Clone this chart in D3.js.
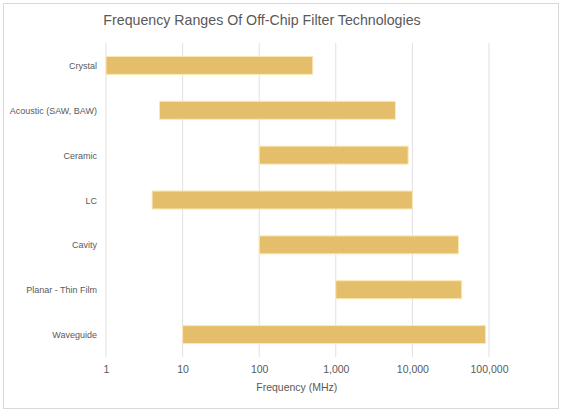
<!DOCTYPE html>
<html>
<head>
<meta charset="utf-8">
<script src="https://cdn.jsdelivr.net/npm/d3@7"></script>
<style>
  body { margin: 0; background: #fff; }
  text { font-family: "Liberation Sans", Arial, sans-serif; fill: #595959; }
</style>
</head>
<body>
<div id="chart"></div>
<script>
const width = 562;
const height = 412;

// data (MHz)
const categories = ["Crystal", "Acoustic (SAW, BAW)", "Ceramic", "LC", "Cavity", "Planar - Thin Film", "Waveguide"];
const lowFreq = [1, 5, 100, 4, 100, 1000, 10];
const highFreq = [500, 6000, 8800, 10000, 40000, 44000, 90000];
const tickValues = [1, 10, 100, 1000, 10000, 100000];

const margin = {top: 43, right: 73, bottom: 55, left: 106};

const svg = d3.select("#chart")
    .append("svg")
    .attr("width", width)
    .attr("height", height);

// outer frame
svg.append("rect")
    .attr("x", 3.5).attr("y", 3.5)
    .attr("width", width - 7).attr("height", height - 7)
    .attr("fill", "#fff")
    .attr("stroke", "#d9d9d9");

const x = d3.scaleLog()
    .domain([1, 100000])
    .range([margin.left, width - margin.right]);

const y = d3.scaleBand()
    .domain(categories)
    .range([margin.top, height - margin.bottom])
    .paddingInner(0.6)
    .paddingOuter(0.3);

// vertical gridlines
svg.append("g")
    .selectAll("line")
    .data(tickValues)
    .join("line")
    .attr("x1", d => x(d)).attr("x2", d => x(d))
    .attr("y1", margin.top).attr("y2", height - margin.bottom)
    .attr("stroke", "#e0e0e0")
    .attr("stroke-width", 1);

// bars
svg.append("g")
    .selectAll("rect")
    .data(categories)
    .join("rect")
    .attr("x", (d, i) => x(lowFreq[i]))
    .attr("y", d => y(d))
    .attr("width", (d, i) => x(highFreq[i]) - x(lowFreq[i]))
    .attr("height", y.bandwidth())
    .attr("fill", "#e4be6a")
    .attr("stroke", "#fbe7b5")
    .attr("stroke-width", 1);

// x axis labels
const xAxis = d3.axisBottom(x)
    .tickValues(tickValues)
    .tickFormat(d3.format(","))
    .tickSize(0)
    .tickPadding(9);

const gx = svg.append("g")
    .attr("transform", `translate(0,${height - margin.bottom})`)
    .call(xAxis);
gx.select(".domain").remove();
gx.selectAll("text")
    .attr("font-size", 10.5)
    .style("font-family", '"Liberation Sans", Arial, sans-serif')
    .attr("fill", "#595959");

// y axis labels
const yAxis = d3.axisLeft(y).tickSize(0).tickPadding(9);
const gy = svg.append("g")
    .attr("transform", `translate(${margin.left},0)`)
    .call(yAxis);
gy.select(".domain").remove();
gy.selectAll("text")
    .attr("font-size", 9)
    .attr("dy", "0.4em")
    .style("font-family", '"Liberation Sans", Arial, sans-serif')
    .attr("fill", "#595959");

// title
svg.append("text")
    .attr("x", 262)
    .attr("y", 25)
    .attr("text-anchor", "middle")
    .attr("font-size", 14.2)
    .text("Frequency Ranges Of Off-Chip Filter Technologies");

// axis title
svg.append("text")
    .attr("x", x(1000) - 39)
    .attr("y", 391)
    .attr("text-anchor", "middle")
    .attr("font-size", 10.5)
    .text("Frequency (MHz)");
</script>
</body>
</html>
